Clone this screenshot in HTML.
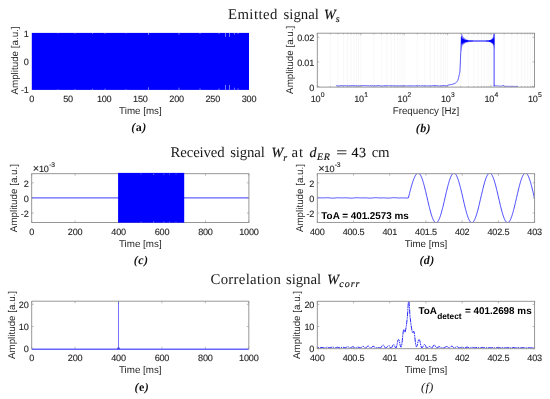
<!DOCTYPE html>
<html><head><meta charset="utf-8"><title>Signals</title>
<style>
html,body{margin:0;padding:0;background:#fff;overflow:hidden}
svg{display:block}
text{text-rendering:geometricPrecision}
.tk{font-family:"Liberation Sans",sans-serif;font-size:9.1px;fill:#262626;stroke:#262626;stroke-width:0.12px;letter-spacing:-0.2px}
.lb{font-family:"Liberation Sans",sans-serif;font-size:9.8px;fill:#262626}
.bd{font-family:"Liberation Sans",sans-serif;font-size:9.9px;font-weight:bold;fill:#000}
.ti{font-family:"Liberation Serif",serif;font-size:14.8px;letter-spacing:0.25px;fill:#1a1a1a}
.mi{font-family:"Liberation Serif",serif;font-style:italic;font-size:14px;fill:#111;stroke:#111;stroke-width:0.15px}
.mr{font-family:"Liberation Serif",serif;font-size:14px;fill:#111;stroke:#111;stroke-width:0.15px}
.cp{font-family:"Liberation Serif",serif;font-style:italic;font-weight:bold;font-size:12px;letter-spacing:0.45px;fill:#111}
.cpl{font-family:"Liberation Serif",serif;font-style:italic;font-size:12px;letter-spacing:0.4px;fill:#111}
</style></head><body>
<svg width="550" height="399" viewBox="0 0 550 399">
<rect width="550" height="399" fill="#ffffff"/>
<rect x="31.8" y="32.9" width="217.2" height="57" fill="#0000ff"/>
<path d="M92.5 32.9v0.96M92.5 89.9v-1.2M148.5 32.9v2.08M148.5 89.9v-2.6M179 32.9v1.76M179 89.9v-2.2M200 32.9v1.2M200 89.9v-1.5M219 32.9v1.2M219 89.9v-1.5M225.5 32.9v4M225.5 89.9v-5M229.5 32.9v4M229.5 89.9v-5M234.4 32.9v1.76M234.4 89.9v-2.2M238 32.9v1.2M238 89.9v-1.5M75 32.9v0.8M75 89.9v-1M105 32.9v1.04M105 89.9v-1.3M58 32.9v0.64M58 89.9v-0.8M126 32.9v0.64M126 89.9v-0.8" stroke="#ffffff" stroke-opacity="0.75" stroke-width="0.6" fill="none"/>
<text x="31.8" y="102" text-anchor="middle" class="tk">0</text>
<text x="68" y="102" text-anchor="middle" class="tk">50</text>
<text x="104.2" y="102" text-anchor="middle" class="tk">100</text>
<text x="140.4" y="102" text-anchor="middle" class="tk">150</text>
<text x="176.6" y="102" text-anchor="middle" class="tk">200</text>
<text x="212.8" y="102" text-anchor="middle" class="tk">250</text>
<text x="249" y="102" text-anchor="middle" class="tk">300</text>
<text x="28.6" y="37" text-anchor="end" class="tk">1</text>
<text x="28.6" y="65" text-anchor="end" class="tk">0</text>
<text x="28.6" y="93" text-anchor="end" class="tk">-1</text>
<text x="140.4" y="114.1" text-anchor="middle" class="lb">Time [ms]</text>
<text transform="translate(17.5 60.5) rotate(-90)" text-anchor="middle" class="lb">Amplitude [a.u.]</text>
<path d="M330.38 33.2V87.1M338.03 33.2V87.1M343.45 33.2V87.1M347.66 33.2V87.1M351.1 33.2V87.1M354.01 33.2V87.1M356.53 33.2V87.1M358.75 33.2V87.1M360.74 33.2V87.1M373.82 33.2V87.1M381.47 33.2V87.1M386.89 33.2V87.1M391.1 33.2V87.1M394.54 33.2V87.1M397.45 33.2V87.1M399.97 33.2V87.1M402.19 33.2V87.1M404.18 33.2V87.1M417.26 33.2V87.1M424.91 33.2V87.1M430.33 33.2V87.1M434.54 33.2V87.1M437.98 33.2V87.1M440.89 33.2V87.1M443.41 33.2V87.1M445.63 33.2V87.1M447.62 33.2V87.1M460.7 33.2V87.1M468.35 33.2V87.1M473.77 33.2V87.1M477.98 33.2V87.1M481.42 33.2V87.1M484.33 33.2V87.1M486.85 33.2V87.1M489.07 33.2V87.1M491.06 33.2V87.1M504.14 33.2V87.1M511.79 33.2V87.1M517.21 33.2V87.1M521.42 33.2V87.1M524.86 33.2V87.1M527.77 33.2V87.1M530.29 33.2V87.1M532.51 33.2V87.1" stroke="#f3f3f3" stroke-width="0.6" fill="none"/>
<clipPath id="cb"><rect x="317.3" y="33.2" width="217.2" height="53.9"/></clipPath>
<g clip-path="url(#cb)"><polyline points="336.04,85.98 336.56,85.78 337.08,85.89 337.6,85.74 338.12,85.73 338.64,86.09 339.17,86.12 339.69,85.59 340.21,85.96 340.73,85.98 341.25,85.49 341.77,85.83 342.29,85.59 342.82,85.83 343.34,85.72 343.86,86.03 344.38,85.72 344.9,85.57 345.42,85.8 345.94,85.66 346.46,85.7 346.99,86.09 347.51,85.64 348.03,85.75 348.55,85.94 349.07,86.11 349.59,85.58 350.11,85.83 350.63,85.67 351.16,85.57 351.68,85.67 352.2,85.54 352.72,85.88 353.24,85.62 353.76,85.85 354.28,85.53 354.8,85.57 355.33,86.07 355.85,86.04 356.37,85.99 356.89,85.51 357.41,85.85 357.93,85.73 358.45,85.94 358.97,85.81 359.5,85.88 360.02,85.91 360.54,85.76 361.06,85.76 361.58,85.55 362.1,85.69 362.62,85.53 363.15,85.58 363.67,85.5 364.19,85.7 364.71,86.03 365.23,85.58 365.75,85.51 366.27,85.55 366.79,85.77 367.32,85.67 367.84,86 368.36,85.6 368.88,85.76 369.4,85.95 369.92,86.09 370.44,85.58 370.96,85.5 371.49,86.07 372.01,85.62 372.53,85.87 373.05,86.03 373.57,85.94 374.09,85.64 374.61,85.57 375.13,86.1 375.66,85.74 376.18,86.1 376.7,85.67 377.22,85.92 377.74,85.57 378.26,85.5 378.78,85.81 379.3,85.49 379.83,85.93 380.35,86.08 380.87,85.75 381.39,86.11 381.91,86 382.43,85.87 382.95,85.74 383.47,86.03 384,86.1 384.52,85.57 385.04,85.93 385.56,85.52 386.08,85.56 386.6,85.89 387.12,85.84 387.65,85.8 388.17,85.72 388.69,85.75 389.21,85.77 389.73,85.73 390.25,85.53 390.77,85.81 391.29,85.85 391.82,85.67 392.34,85.98 392.86,85.94 393.38,85.5 393.9,85.8 394.42,85.78 394.94,86.12 395.46,85.86 395.99,85.76 396.51,86.12 397.03,85.74 397.55,85.73 398.07,86.09 398.59,85.73 399.11,85.83 399.63,85.7 400.16,85.9 400.68,85.68 401.2,85.66 401.72,86.12 402.24,86.09 402.76,85.7 403.28,85.51 403.8,85.97 404.33,85.84 404.85,85.75 405.37,85.93 405.89,85.9 406.41,85.93 406.93,85.89 407.45,85.75 407.98,85.94 408.5,85.89 409.02,85.64 409.54,86.11 410.06,85.77 410.58,85.66 411.1,85.93 411.62,85.99 412.15,85.62 412.67,85.98 413.19,86.01 413.71,85.85 414.23,85.68 414.75,86.07 415.27,85.92 415.79,85.92 416.32,85.6 416.84,85.85 417.36,85.58 417.88,86.02 418.4,85.92 418.92,85.71 419.44,85.56 419.96,85.84 420.49,85.99 421.01,86.05 421.53,85.79 422.05,86.01 422.57,85.61 423.09,85.59 423.61,86.01 424.13,85.95 424.66,85.61 425.18,85.72 425.7,85.61 426.22,85.91 426.74,86.05 427.26,85.94 427.78,85.62 428.31,85.96 428.83,85.91 429.35,85.86 429.87,85.86 430.39,85.87 430.91,85.54 431.43,86.03 431.95,86.13 432.48,85.53 433,85.57 433.52,85.5 434.04,85.85 434.56,85.52 435.08,85.54 435.6,85.99 436.12,85.65 436.65,85.59 437.17,85.71 437.69,85.8 438.21,85.95 438.73,85.91 439.25,85.99 439.77,86.09 440.29,85.75 440.82,85.95 441.34,85.61 441.86,86.1 442.38,85.55 442.9,85.69 443.42,85.54 443.94,85.56 444.46,85.55 444.99,85.76 445.51,86.12 446.03,85.65 446.55,86.02 447.07,85.94" fill="none" stroke="#0000ff" stroke-width="1.1" stroke-opacity="0.5" stroke-linejoin="round"/>
<polyline points="447.07,85.94 448,85.12 448.1,85.1 448.2,85.08 448.3,85.06 448.4,85.05 448.5,85.03 448.6,85.01 448.7,84.99 448.8,84.97 448.9,84.95 449,84.93 449.1,84.92 449.2,84.9 449.3,84.88 449.4,84.86 449.5,84.84 449.6,84.82 449.7,84.8 449.8,84.79 449.9,84.77 450,84.75 450.1,84.73 450.2,84.71 450.3,84.69 450.4,84.67 450.5,84.66 450.6,84.64 450.7,84.62 450.8,84.6 450.9,84.58 451,84.56 451.1,84.55 451.2,84.53 451.3,84.51 451.4,84.49 451.5,84.47 451.6,84.45 451.7,84.43 451.8,84.42 451.9,84.4 452,84.38 452.1,84.35 452.2,84.32 452.3,84.29 452.4,84.26 452.5,84.23 452.6,84.2 452.7,84.17 452.8,84.14 452.9,84.11 453,84.08 453.1,84.05 453.2,84.02 453.3,83.99 453.4,83.96 453.5,83.93 453.6,83.9 453.7,83.87 453.8,83.84 453.9,83.81 454,83.78 454.1,83.75 454.2,83.72 454.3,83.69 454.4,83.66 454.5,83.63 454.6,83.6 454.7,83.57 454.8,83.54 454.9,83.51 455,83.48 455.1,83.45 455.2,83.42 455.3,83.39 455.4,83.27 455.5,83.15 455.6,83.04 455.7,82.92 455.8,82.8 455.9,82.68 456,82.56 456.1,82.44 456.2,82.32 456.3,82.2 456.4,82.08 456.5,81.97 456.6,81.85 456.7,81.73 456.8,81.61 456.9,81.49 457,81.37 457.1,81.25 457.2,81.13 457.3,81.02 457.4,80.9 457.5,80.78 457.6,80.66 457.7,80.54 457.8,80.42 457.9,80.3 458,80.18 458.1,79.74 458.2,79.3 458.3,78.86 458.4,78.42 458.5,77.97 458.6,77.53 458.7,77.09 458.8,76.65 458.9,76.21 459,75.77 459.1,75.33 459.2,74.88 459.3,74.44 459.4,74 459.5,73.56 459.6,73.12 459.7,72.68 459.8,72.23 459.9,71.79 460,69.55 460.1,67.3 460.2,65.06 460.3,62.82 460.4,60.57 460.5,58.33 460.6,56.09 460.7,53.84 460.8,51.6 460.9,49.36 461,47.11 461.1,44.4 461.2,41.68 461.3,38.97 461.4,36.25" fill="none" stroke="#0000ff" stroke-width="0.8" stroke-opacity="0.85" stroke-linejoin="round"/>
<path d="M461 40.94H494.1" stroke="#0000ff" stroke-width="1.1" fill="none"/>
<polygon points="461.2,33.2 461.9,33.2 462.5,35.5 464,37.8 466,39.3 469,40.2 473,40.5 473,41.5 469,41.9 466,42.8 464,44 462.5,45.5 461.8,47.5 461.6,51 461.2,51" fill="#0000ff" fill-opacity="0.5"/>
<polygon points="461.2,37.3 463,38.8 465,39.8 468,40.4 468,41.6 465,42.3 463,43.2 461.2,44.6" fill="#0000ff" fill-opacity="1.0"/>
<polygon points="486,40.5 489,40.2 491,39.5 492.5,38 493.4,35.5 493.7,33.2 494.4,33.2 494.4,50 493.7,46 492.5,44 491,42.6 489,41.9 486,41.5" fill="#0000ff" fill-opacity="0.5"/>
<polygon points="489,40.4 491,39.9 492.5,39 494.2,37.3 494.2,45 492.5,43.2 491,42.2 489,41.6" fill="#0000ff" fill-opacity="1.0"/>
<path d="M494.1 33.2V86.6" stroke="#0000ff" stroke-width="0.9" stroke-opacity="0.85" fill="none"/>
<polyline points="494.1,85.61 494.6,85.61 495.1,85.67 495.6,85.73 496.1,85.78 496.6,85.83 497.1,85.88 497.6,85.92 498.1,85.96 498.6,85.99 499.1,86.03 499.6,86.06 500.1,86.08 500.6,86.11 501.1,86.13 501.6,86.16 502.1,86.17 502.6,85.45 503.1,85.47 503.6,85.48 504.1,86.24 504.6,86.25 505.1,86.26 505.6,86.28 506.1,86.29 506.6,86.3 507.1,86.3 507.6,86.31 508.1,86.32 508.6,86.33 509.1,86.33 509.6,86.34 510.1,86.34 510.6,86.35 511.1,86.35 511.6,86.36 512.1,86.36 512.6,86.36 513.1,86.37 513.6,86.37 514.1,86.37 514.6,86.37 515.1,86.38 515.6,86.38 516.1,86.38 516.6,86.38 517.1,86.38 517.6,86.39 518.1,86.39" fill="none" stroke="#0000ff" stroke-width="0.7" stroke-opacity="0.8"/>
</g>
<rect x="317.3" y="33.2" width="217.2" height="53.9" fill="none" stroke="#8c8c8c" stroke-width="0.9"/>
<path d="M317.3 87.1v-2.0M317.3 33.2v2.0M360.74 87.1v-2.0M360.74 33.2v2.0M404.18 87.1v-2.0M404.18 33.2v2.0M447.62 87.1v-2.0M447.62 33.2v2.0M491.06 87.1v-2.0M491.06 33.2v2.0M534.5 87.1v-2.0M534.5 33.2v2.0" stroke="#8c8c8c" stroke-width="0.6" fill="none"/>
<path d="M317.3 86.6h2.0M534.5 86.6h-2.0M317.3 61.92h2.0M534.5 61.92h-2.0M317.3 37.24h2.0M534.5 37.24h-2.0" stroke="#8c8c8c" stroke-width="0.6" fill="none"/>
<path d="M330.38 87.1v-1.1M330.38 33.2v1.1M338.03 87.1v-1.1M338.03 33.2v1.1M343.45 87.1v-1.1M343.45 33.2v1.1M347.66 87.1v-1.1M347.66 33.2v1.1M351.1 87.1v-1.1M351.1 33.2v1.1M354.01 87.1v-1.1M354.01 33.2v1.1M356.53 87.1v-1.1M356.53 33.2v1.1M358.75 87.1v-1.1M358.75 33.2v1.1M373.82 87.1v-1.1M373.82 33.2v1.1M381.47 87.1v-1.1M381.47 33.2v1.1M386.89 87.1v-1.1M386.89 33.2v1.1M391.1 87.1v-1.1M391.1 33.2v1.1M394.54 87.1v-1.1M394.54 33.2v1.1M397.45 87.1v-1.1M397.45 33.2v1.1M399.97 87.1v-1.1M399.97 33.2v1.1M402.19 87.1v-1.1M402.19 33.2v1.1M417.26 87.1v-1.1M417.26 33.2v1.1M424.91 87.1v-1.1M424.91 33.2v1.1M430.33 87.1v-1.1M430.33 33.2v1.1M434.54 87.1v-1.1M434.54 33.2v1.1M437.98 87.1v-1.1M437.98 33.2v1.1M440.89 87.1v-1.1M440.89 33.2v1.1M443.41 87.1v-1.1M443.41 33.2v1.1M445.63 87.1v-1.1M445.63 33.2v1.1M460.7 87.1v-1.1M460.7 33.2v1.1M468.35 87.1v-1.1M468.35 33.2v1.1M473.77 87.1v-1.1M473.77 33.2v1.1M477.98 87.1v-1.1M477.98 33.2v1.1M481.42 87.1v-1.1M481.42 33.2v1.1M484.33 87.1v-1.1M484.33 33.2v1.1M486.85 87.1v-1.1M486.85 33.2v1.1M489.07 87.1v-1.1M489.07 33.2v1.1M504.14 87.1v-1.1M504.14 33.2v1.1M511.79 87.1v-1.1M511.79 33.2v1.1M517.21 87.1v-1.1M517.21 33.2v1.1M521.42 87.1v-1.1M521.42 33.2v1.1M524.86 87.1v-1.1M524.86 33.2v1.1M527.77 87.1v-1.1M527.77 33.2v1.1M530.29 87.1v-1.1M530.29 33.2v1.1M532.51 87.1v-1.1M532.51 33.2v1.1" stroke="#8c8c8c" stroke-width="0.6" fill="none"/>
<text x="317.5" y="102" text-anchor="middle" class="tk">10<tspan dy="-4.7" dx="0.3" font-size="6.8">0</tspan></text>
<text x="360.94" y="102" text-anchor="middle" class="tk">10<tspan dy="-4.7" dx="0.3" font-size="6.8">1</tspan></text>
<text x="404.38" y="102" text-anchor="middle" class="tk">10<tspan dy="-4.7" dx="0.3" font-size="6.8">2</tspan></text>
<text x="447.82" y="102" text-anchor="middle" class="tk">10<tspan dy="-4.7" dx="0.3" font-size="6.8">3</tspan></text>
<text x="491.26" y="102" text-anchor="middle" class="tk">10<tspan dy="-4.7" dx="0.3" font-size="6.8">4</tspan></text>
<text x="534.7" y="102" text-anchor="middle" class="tk">10<tspan dy="-4.7" dx="0.3" font-size="6.8">5</tspan></text>
<text x="314.1" y="91" text-anchor="end" class="tk">0</text>
<text x="314.1" y="65.52" text-anchor="end" class="tk">0.01</text>
<text x="314.1" y="40.84" text-anchor="end" class="tk">0.02</text>
<text x="425.9" y="114.1" text-anchor="middle" class="lb">Frequency [Hz]</text>
<text transform="translate(293 59.85) rotate(-90)" text-anchor="middle" class="lb">Amplitude [a.u.]</text>
<path d="M31.7 197.9H248.9" stroke="#0000ff" stroke-opacity="0.62" stroke-width="1.3"/>
<rect x="31.7" y="173.7" width="217.2" height="48.8" fill="none" stroke="#8c8c8c" stroke-width="0.9"/>
<path d="M31.7 222.5v-2.0M31.7 173.7v2.0M75.14 222.5v-2.0M75.14 173.7v2.0M118.58 222.5v-2.0M118.58 173.7v2.0M162.02 222.5v-2.0M162.02 173.7v2.0M205.46 222.5v-2.0M205.46 173.7v2.0M248.9 222.5v-2.0M248.9 173.7v2.0" stroke="#8c8c8c" stroke-width="0.6" fill="none"/>
<path d="M31.7 182.8h2.0M248.9 182.8h-2.0M31.7 197.9h2.0M248.9 197.9h-2.0M31.7 213h2.0M248.9 213h-2.0" stroke="#8c8c8c" stroke-width="0.6" fill="none"/>
<rect x="118.1" y="172.9" width="66.1" height="49.8" fill="#0000ff"/>
<path d="M153.6 173.7v1.3M153.6 222.5v-1.3M163.8 173.7v1.1M163.8 222.5v-1.1M169.5 173.7v0.9M169.5 222.5v-0.9M141 173.7v0.8M141 222.5v-0.8M176 173.7v0.8M176 222.5v-0.8" stroke="#ffffff" stroke-opacity="0.7" stroke-width="0.6" fill="none"/>
<text x="31.7" y="235" text-anchor="middle" class="tk">0</text>
<text x="75.14" y="235" text-anchor="middle" class="tk">200</text>
<text x="118.58" y="235" text-anchor="middle" class="tk">400</text>
<text x="162.02" y="235" text-anchor="middle" class="tk">600</text>
<text x="205.46" y="235" text-anchor="middle" class="tk">800</text>
<text x="248.9" y="235" text-anchor="middle" class="tk">1000</text>
<text x="28.5" y="187" text-anchor="end" class="tk">2</text>
<text x="28.5" y="202" text-anchor="end" class="tk">0</text>
<text x="28.5" y="217" text-anchor="end" class="tk">-2</text>
<text x="140.3" y="246.7" text-anchor="middle" class="lb">Time [ms]</text>
<text transform="translate(17.3 198.1) rotate(-90)" text-anchor="middle" class="lb">Amplitude [a.u.]</text>
<text x="32.7" y="171.8" class="tk"><tspan font-size="11">×</tspan>10<tspan dy="-4.6" dx="0.5" font-size="6.8">-3</tspan></text>
<clipPath id="cd"><rect x="317.3" y="173.4" width="217.3" height="49.3"/></clipPath>
<g clip-path="url(#cd)"><polyline points="317.3,197.91 317.59,197.88 317.88,197.86 318.17,197.84 318.46,197.83 318.75,197.82 319.04,197.81 319.33,197.81 319.62,197.81 319.91,197.82 320.2,197.83 320.49,197.84 320.78,197.85 321.07,197.86 321.36,197.87 321.65,197.88 321.94,197.89 322.23,197.9 322.52,197.91 322.8,197.91 323.09,197.91 323.38,197.9 323.67,197.9 323.96,197.88 324.25,197.87 324.54,197.85 324.83,197.84 325.12,197.82 325.41,197.8 325.7,197.78 325.99,197.76 326.28,197.75 326.57,197.74 326.86,197.73 327.15,197.73 327.44,197.73 327.73,197.74 328.02,197.75 328.31,197.77 328.6,197.79 328.89,197.81 329.18,197.84 329.47,197.87 329.76,197.91 330.05,197.94 330.34,197.98 330.63,198.01 330.92,198.04 331.21,198.07 331.5,198.1 331.79,198.12 332.08,198.13 332.37,198.14 332.66,198.15 332.95,198.15 333.24,198.14 333.53,198.13 333.81,198.11 334.1,198.08 334.39,198.06 334.68,198.03 334.97,198 335.26,197.96 335.55,197.93 335.84,197.9 336.13,197.87 336.42,197.84 336.71,197.82 337,197.8 337.29,197.78 337.58,197.77 337.87,197.76 338.16,197.76 338.45,197.76 338.74,197.77 339.03,197.78 339.32,197.79 339.61,197.81 339.9,197.82 340.19,197.84 340.48,197.85 340.77,197.87 341.06,197.88 341.35,197.89 341.64,197.9 341.93,197.9 342.22,197.9 342.51,197.9 342.8,197.89 343.09,197.88 343.38,197.87 343.67,197.86 343.96,197.84 344.25,197.83 344.53,197.82 344.82,197.8 345.11,197.79 345.4,197.78 345.69,197.78 345.98,197.78 346.27,197.78 346.56,197.79 346.85,197.8 347.14,197.82 347.43,197.84 347.72,197.86 348.01,197.89 348.3,197.92 348.59,197.95 348.88,197.98 349.17,198.01 349.46,198.04 349.75,198.07 350.04,198.09 350.33,198.11 350.62,198.13 350.91,198.14 351.2,198.15 351.49,198.15 351.78,198.14 352.07,198.13 352.36,198.11 352.65,198.09 352.94,198.06 353.23,198.03 353.52,197.99 353.81,197.96 354.1,197.92 354.39,197.89 354.68,197.85 354.97,197.82 355.26,197.79 355.54,197.77 355.83,197.75 356.12,197.73 356.41,197.72 356.7,197.72 356.99,197.72 357.28,197.72 357.57,197.73 357.86,197.74 358.15,197.76 358.44,197.78 358.73,197.8 359.02,197.82 359.31,197.84 359.6,197.86 359.89,197.87 360.18,197.89 360.47,197.9 360.76,197.91 361.05,197.92 361.34,197.92 361.63,197.92 361.92,197.91 362.21,197.91 362.5,197.9 362.79,197.89 363.08,197.87 363.37,197.86 363.66,197.85 363.95,197.84 364.24,197.83 364.53,197.83 364.82,197.83 365.11,197.83 365.4,197.84 365.69,197.85 365.98,197.86 366.26,197.88 366.55,197.9 366.84,197.92 367.13,197.95 367.42,197.97 367.71,198 368,198.03 368.29,198.05 368.58,198.08 368.87,198.09 369.16,198.11 369.45,198.12 369.74,198.13 370.03,198.13 370.32,198.12 370.61,198.11 370.9,198.1 371.19,198.07 371.48,198.05 371.77,198.02 372.06,197.98 372.35,197.95 372.64,197.91 372.93,197.88 373.22,197.84 373.51,197.81 373.8,197.77 374.09,197.75 374.38,197.72 374.67,197.7 374.96,197.69 375.25,197.68 375.54,197.68 375.83,197.68 376.12,197.69 376.41,197.71 376.7,197.72 376.99,197.74 377.27,197.77 377.56,197.79 377.85,197.82 378.14,197.84 378.43,197.87 378.72,197.89 379.01,197.91 379.3,197.93 379.59,197.94 379.88,197.95 380.17,197.95 380.46,197.96 380.75,197.96 381.04,197.95 381.33,197.94 381.62,197.93 381.91,197.92 382.2,197.91 382.49,197.9 382.78,197.89 383.07,197.88 383.36,197.88 383.65,197.87 383.94,197.87 384.23,197.87 384.52,197.88 384.81,197.89 385.1,197.9 385.39,197.92 385.68,197.94 385.97,197.96 386.26,197.98 386.55,198 386.84,198.02 387.13,198.04 387.42,198.06 387.71,198.08 387.99,198.09 388.28,198.09 388.57,198.1 388.86,198.09 389.15,198.08 389.44,198.07 389.73,198.05 390.02,198.03 390.31,198 390.6,197.97 390.89,197.94 391.18,197.9 391.47,197.86 391.76,197.83 392.05,197.79 392.34,197.76 392.63,197.73 392.92,197.71 393.21,197.69 393.5,197.67 393.79,197.66 394.08,197.66 394.37,197.66 394.66,197.67 394.95,197.68 395.24,197.7 395.53,197.72 395.82,197.75 396.11,197.77 396.4,197.8 396.69,197.83 396.98,197.86 397.27,197.89 397.56,197.92 397.85,197.94 398.14,197.96 398.43,197.98 398.72,197.99 399,198 399.29,198.01 399.58,198.01 399.87,198 400.16,197.99 400.45,197.98 400.74,197.97 401.03,197.96 401.32,197.95 401.61,197.93 401.9,197.92 402.19,197.91 402.48,197.9 402.77,197.9 403.06,197.9 403.35,197.9 403.64,197.9 403.93,197.91 404.22,197.92 404.51,197.94 404.8,197.95 405.09,197.97 405.38,197.98 405.67,198 405.96,198.02 406.25,198.03 406.54,198.04 406.83,198.05 407.12,198.05 407.41,198.05 407.7,198.05 407.99,198.04 408.28,198.02 408.57,197.13 408.86,195.98 409.15,194.84 409.44,193.71 409.72,192.58 410.01,191.47 410.3,190.37 410.59,189.28 410.88,188.22 411.17,187.17 411.46,186.15 411.75,185.16 412.04,184.19 412.33,183.25 412.62,182.34 412.91,181.46 413.2,180.62 413.49,179.82 413.78,179.06 414.07,178.33 414.36,177.65 414.65,177.01 414.94,176.42 415.23,175.87 415.52,175.37 415.81,174.92 416.1,174.52 416.39,174.17 416.68,173.86 416.97,173.61 417.26,173.42 417.55,173.27 417.84,173.18 418.13,173.14 418.42,173.15 418.71,173.23 419,173.38 419.29,173.59 419.58,173.86 419.87,174.19 420.16,174.58 420.45,175.04 420.73,175.55 421.02,176.13 421.31,176.75 421.6,177.44 421.89,178.17 422.18,178.96 422.47,179.8 422.76,180.68 423.05,181.61 423.34,182.58 423.63,183.59 423.92,184.64 424.21,185.72 424.5,186.83 424.79,187.97 425.08,189.14 425.37,190.33 425.66,191.54 425.95,192.77 426.24,194.01 426.53,195.26 426.82,196.52 427.11,197.78 427.4,199.04 427.69,200.29 427.98,201.55 428.27,202.79 428.56,204.02 428.85,205.23 429.14,206.42 429.43,207.6 429.72,208.74 430.01,209.86 430.3,210.95 430.59,212.01 430.88,213.02 431.17,214 431.45,214.94 431.74,215.83 432.03,216.68 432.32,217.48 432.61,218.22 432.9,218.92 433.19,219.56 433.48,220.14 433.77,220.66 434.06,221.13 434.35,221.54 434.64,221.88 434.93,222.17 435.22,222.39 435.51,222.54 435.8,222.64 436.09,222.66 436.38,222.63 436.67,222.53 436.96,222.37 437.25,222.14 437.54,221.85 437.83,221.5 438.12,221.08 438.41,220.61 438.7,220.08 438.99,219.49 439.28,218.84 439.57,218.14 439.86,217.39 440.15,216.59 440.44,215.74 440.73,214.84 441.02,213.9 441.31,212.92 441.6,211.89 441.89,210.84 442.18,209.74 442.46,208.62 442.75,207.47 443.04,206.3 443.33,205.1 443.62,203.88 443.91,202.65 444.2,201.41 444.49,200.16 444.78,198.9 445.07,197.64 445.36,196.38 445.65,195.12 445.94,193.87 446.23,192.64 446.52,191.41 446.81,190.2 447.1,189.01 447.39,187.85 447.68,186.71 447.97,185.6 448.26,184.52 448.55,183.48 448.84,182.47 449.13,181.51 449.42,180.58 449.71,179.71 450,178.87 450.29,178.09 450.58,177.36 450.87,176.68 451.16,176.06 451.45,175.49 451.74,174.99 452.03,174.54 452.32,174.15 452.61,173.82 452.9,173.56 453.18,173.36 453.47,173.22 453.76,173.15 454.05,173.14 454.34,173.2 454.63,173.31 454.92,173.5 455.21,173.74 455.5,174.05 455.79,174.42 456.08,174.85 456.37,175.35 456.66,175.9 456.95,176.5 457.24,177.16 457.53,177.88 457.82,178.65 458.11,179.47 458.4,180.33 458.69,181.24 458.98,182.2 459.27,183.19 459.56,184.23 459.85,185.29 460.14,186.4 460.43,187.53 460.72,188.68 461.01,189.87 461.3,191.07 461.59,192.29 461.88,193.52 462.17,194.77 462.46,196.03 462.75,197.28 463.04,198.55 463.33,199.8 463.62,201.06 463.91,202.31 464.19,203.54 464.48,204.76 464.77,205.96 465.06,207.14 465.35,208.3 465.64,209.43 465.93,210.53 466.22,211.6 466.51,212.63 466.8,213.63 467.09,214.58 467.38,215.49 467.67,216.35 467.96,217.17 468.25,217.94 468.54,218.65 468.83,219.31 469.12,219.92 469.41,220.47 469.7,220.96 469.99,221.39 470.28,221.76 470.57,222.06 470.86,222.31 471.15,222.49 471.44,222.61 471.73,222.66 472.02,222.65 472.31,222.58 472.6,222.44 472.89,222.23 473.18,221.97 473.47,221.64 473.76,221.25 474.05,220.8 474.34,220.29 474.63,219.73 474.91,219.1 475.2,218.42 475.49,217.69 475.78,216.91 476.07,216.07 476.36,215.19 476.65,214.27 476.94,213.3 477.23,212.3 477.52,211.25 477.81,210.17 478.1,209.06 478.39,207.92 478.68,206.76 478.97,205.57 479.26,204.36 479.55,203.13 479.84,201.9 480.13,200.65 480.42,199.39 480.71,198.13 481,196.87 481.29,195.61 481.58,194.36 481.87,193.12 482.16,191.89 482.45,190.67 482.74,189.47 483.03,188.3 483.32,187.15 483.61,186.03 483.9,184.94 484.19,183.88 484.48,182.86 484.77,181.88 485.06,180.94 485.35,180.04 485.64,179.19 485.92,178.39 486.21,177.64 486.5,176.94 486.79,176.3 487.08,175.71 487.37,175.18 487.66,174.71 487.95,174.29 488.24,173.94 488.53,173.66 488.82,173.43 489.11,173.27 489.4,173.17 489.69,173.14 489.98,173.17 490.27,173.26 490.56,173.42 490.85,173.64 491.14,173.92 491.43,174.27 491.72,174.68 492.01,175.15 492.3,175.67 492.59,176.26 492.88,176.9 493.17,177.6 493.46,178.34 493.75,179.14 494.04,179.99 494.33,180.88 494.62,181.82 494.91,182.8 495.2,183.82 495.49,184.87 495.78,185.96 496.07,187.08 496.36,188.23 496.64,189.4 496.93,190.6 497.22,191.81 497.51,193.04 497.8,194.28 498.09,195.54 498.38,196.79 498.67,198.05 498.96,199.32 499.25,200.57 499.54,201.82 499.83,203.06 500.12,204.29 500.41,205.5 500.7,206.69 500.99,207.85 501.28,208.99 501.57,210.11 501.86,211.19 502.15,212.23 502.44,213.24 502.73,214.21 503.02,215.14 503.31,216.02 503.6,216.86 503.89,217.64 504.18,218.38 504.47,219.06 504.76,219.69 505.05,220.26 505.34,220.77 505.63,221.23 505.92,221.62 506.21,221.95 506.5,222.22 506.79,222.43 507.08,222.57 507.37,222.65 507.65,222.66 507.94,222.61 508.23,222.5 508.52,222.32 508.81,222.08 509.1,221.78 509.39,221.41 509.68,220.98 509.97,220.5 510.26,219.95 510.55,219.35 510.84,218.69 511.13,217.98 511.42,217.22 511.71,216.4 512,215.54 512.29,214.64 512.58,213.68 512.87,212.69 513.16,211.66 513.45,210.6 513.74,209.5 514.03,208.37 514.32,207.21 514.61,206.03 514.9,204.83 515.19,203.61 515.48,202.38 515.77,201.13 516.06,199.88 516.35,198.62 516.64,197.36 516.93,196.1 517.22,194.85 517.51,193.6 517.8,192.36 518.09,191.14 518.37,189.94 518.66,188.75 518.95,187.6 519.24,186.46 519.53,185.36 519.82,184.29 520.11,183.25 520.4,182.26 520.69,181.3 520.98,180.39 521.27,179.52 521.56,178.7 521.85,177.93 522.14,177.21 522.43,176.54 522.72,175.93 523.01,175.38 523.3,174.88 523.59,174.45 523.88,174.07 524.17,173.76 524.46,173.51 524.75,173.32 525.04,173.2 525.33,173.14 525.62,173.15 525.91,173.22 526.2,173.35 526.49,173.55 526.78,173.81 527.07,174.13 527.36,174.51 527.65,174.96 527.94,175.46 528.23,176.03 528.52,176.64 528.81,177.32 529.1,178.05 529.38,178.83 529.67,179.65 529.96,180.53 530.25,181.45 530.54,182.41 530.83,183.42 531.12,184.46 531.41,185.54 531.7,186.64 531.99,187.78 532.28,188.94 532.57,190.13 532.86,191.34 533.15,192.56 533.44,193.8 533.73,195.05 534.02,196.3 534.31,197.56 534.6,198.82" fill="none" stroke="#0000ff" stroke-width="0.8" stroke-opacity="0.9" stroke-linejoin="round"/></g>
<rect x="317.3" y="173.7" width="217.3" height="48.7" fill="none" stroke="#8c8c8c" stroke-width="0.9"/>
<path d="M317.3 222.4v-2.0M317.3 173.7v2.0M353.52 222.4v-2.0M353.52 173.7v2.0M389.73 222.4v-2.0M389.73 173.7v2.0M425.95 222.4v-2.0M425.95 173.7v2.0M462.17 222.4v-2.0M462.17 173.7v2.0M498.38 222.4v-2.0M498.38 173.7v2.0M534.6 222.4v-2.0M534.6 173.7v2.0" stroke="#8c8c8c" stroke-width="0.6" fill="none"/>
<path d="M317.3 182.8h2.0M534.6 182.8h-2.0M317.3 197.9h2.0M534.6 197.9h-2.0M317.3 213h2.0M534.6 213h-2.0" stroke="#8c8c8c" stroke-width="0.6" fill="none"/>
<text x="317.3" y="235" text-anchor="middle" class="tk">400</text>
<text x="353.52" y="235" text-anchor="middle" class="tk">400.5</text>
<text x="389.73" y="235" text-anchor="middle" class="tk">401</text>
<text x="425.95" y="235" text-anchor="middle" class="tk">401.5</text>
<text x="462.17" y="235" text-anchor="middle" class="tk">402</text>
<text x="498.38" y="235" text-anchor="middle" class="tk">402.5</text>
<text x="534.6" y="235" text-anchor="middle" class="tk">403</text>
<text x="314.1" y="187" text-anchor="end" class="tk">2</text>
<text x="314.1" y="202" text-anchor="end" class="tk">0</text>
<text x="314.1" y="217" text-anchor="end" class="tk">-2</text>
<text x="425.95" y="246.6" text-anchor="middle" class="lb">Time [ms]</text>
<text transform="translate(302.5 198.05) rotate(-90)" text-anchor="middle" class="lb">Amplitude [a.u.]</text>
<text x="318.3" y="171.8" class="tk"><tspan font-size="11">×</tspan>10<tspan dy="-4.6" dx="0.5" font-size="6.8">-3</tspan></text>
<text x="321.3" y="218.6" class="bd">ToA = 401.2573 ms</text>
<path d="M31.7 349.2H248.8" stroke="#0000ff" stroke-opacity="0.6" stroke-width="1.5"/>
<path d="M118.5 301.5V348.8" stroke="#0000ff" stroke-opacity="0.6" stroke-width="0.9"/>
<path d="M118.5 301.5v2" stroke="#0000ff" stroke-opacity="0.5" stroke-width="0.9"/>
<path d="M117.5 348.3h2" stroke="#0000ff" stroke-width="1.6"/>
<path d="M31.7 301.2H248.8V348.8M31.7 301.2V348.8" fill="none" stroke="#8c8c8c" stroke-width="0.9"/>
<path d="M31.7 348.8v-2.0M31.7 301.2v2.0M75.12 348.8v-2.0M75.12 301.2v2.0M118.54 348.8v-2.0M118.54 301.2v2.0M161.96 348.8v-2.0M161.96 301.2v2.0M205.38 348.8v-2.0M205.38 301.2v2.0M248.8 348.8v-2.0M248.8 301.2v2.0" stroke="#8c8c8c" stroke-width="0.6" fill="none"/>
<path d="M31.7 348.8h2.0M248.8 348.8h-2.0M31.7 326.55h2.0M248.8 326.55h-2.0M31.7 304.3h2.0M248.8 304.3h-2.0" stroke="#8c8c8c" stroke-width="0.6" fill="none"/>
<text x="31.7" y="361" text-anchor="middle" class="tk">0</text>
<text x="75.12" y="361" text-anchor="middle" class="tk">200</text>
<text x="118.54" y="361" text-anchor="middle" class="tk">400</text>
<text x="161.96" y="361" text-anchor="middle" class="tk">600</text>
<text x="205.38" y="361" text-anchor="middle" class="tk">800</text>
<text x="248.8" y="361" text-anchor="middle" class="tk">1000</text>
<text x="28.5" y="352.4" text-anchor="end" class="tk">0</text>
<text x="28.5" y="330.15" text-anchor="end" class="tk">10</text>
<text x="28.5" y="307.9" text-anchor="end" class="tk">20</text>
<text x="140.25" y="373" text-anchor="middle" class="lb">Time [ms]</text>
<text transform="translate(15.4 325) rotate(-90)" text-anchor="middle" class="lb">Amplitude [a.u.]</text>
<clipPath id="cf"><rect x="317.3" y="301.3" width="217.3" height="47.4"/></clipPath>
<g clip-path="url(#cf)"><path d="M312.03 347.23C312.62 347.38 313.41 347.89 314.58 347.9C315.75 347.9 315.96 347.25 317.13 347.25C318.3 347.25 318.51 347.85 319.68 347.9C320.85 347.9 321.06 347.47 322.23 347.47C323.4 347.47 323.61 347.9 324.78 347.9C325.95 347.83 326.16 347.15 327.33 347.15C328.5 347.15 328.71 347.9 329.88 347.9C331.05 347.87 331.26 347.01 332.43 347.01C333.6 347.01 333.81 347.86 334.98 347.9C336.15 347.9 336.36 347.18 337.53 347.18C338.7 347.18 338.91 347.9 340.08 347.9C341.25 347.88 341.46 347.08 342.63 347.08C343.8 347.08 344.01 347.9 345.18 347.9C346.35 347.82 346.56 346.71 347.73 346.71C348.9 346.71 349.11 347.9 350.28 347.9C351.45 347.9 351.66 346.71 352.83 346.71C354 346.71 354.21 347.82 355.38 347.9C356.55 347.9 356.76 347.05 357.93 347.05C359.1 347.05 359.31 347.9 360.48 347.9C361.65 347.74 361.86 346.35 363.03 346.35C364.2 346.35 364.41 347.9 365.58 347.9C366.75 347.82 366.96 346 368.13 346C369.3 346 369.51 347.83 370.68 347.9C371.85 347.9 372.06 346.3 373.23 346.3C374.4 346.3 374.64 347.66 375.78 347.9C376.92 347.9 377.09 347.36 378.18 347.36C379.28 347.37 379.42 347.91 380.55 347.91C381.67 347.37 381.96 345 383.09 345C384.22 345 384.49 347.49 385.45 347.91C386.42 347.91 386.44 347.36 387.27 346.82C388.11 346.27 388.17 345.55 389.09 345.55C390.01 345.82 390.23 348 391.27 348C392.32 347.75 392.55 344.45 393.64 344.45C394.72 344.45 394.87 348 396 348C397.13 346.87 397.37 339.73 398.55 339.55C399.72 339.55 399.92 347.18 401.09 347.18C402.26 344.88 402.72 333.02 403.64 329.55C404.56 329.55 404.28 332.09 405.09 332.09C405.91 329.58 406.35 325.79 407.18 318.64C408.02 311.49 408.02 301 408.73 301C409.44 301 409.39 311.28 410.27 318.64C411.15 326 411.69 330.07 412.55 333C413.4 333 413.12 331.36 414 331.36C414.88 334.54 415.19 344.94 416.36 346.82C417.53 346.82 417.84 339.55 419.09 339.55C420.35 339.8 420.56 346.78 421.82 347.91C423.07 347.91 423.37 344.45 424.55 344.45C425.72 344.48 425.74 347.54 426.91 348C428.08 348 428.51 346.45 429.64 346.45C430.77 346.45 430.77 348 431.82 348C432.86 347.67 433.09 345.02 434.18 345C435.27 345 435.42 347.53 436.55 347.91C437.67 347.91 437.92 346.64 439.09 346.64C440.26 346.66 440.48 347.71 441.64 348C442.8 348 442.97 348 444.14 347.9C445.3 347.55 445.51 346.48 446.69 346.48C447.86 346.48 448.06 347.9 449.24 347.9C450.41 347.84 450.61 346.2 451.79 346.2C452.96 346.2 453.16 347.8 454.34 347.9C455.51 347.9 455.71 346.64 456.89 346.64C458.06 346.64 458.26 347.77 459.44 347.9C460.61 347.9 460.81 347.19 461.99 347.19C463.16 347.19 463.36 347.9 464.54 347.9C465.71 347.87 465.91 347.06 467.09 347.06C468.26 347.06 468.46 347.85 469.64 347.9C470.81 347.9 471.01 347.28 472.19 347.28C473.36 347.28 473.56 347.86 474.74 347.9C475.91 347.9 476.11 347.47 477.29 347.47C478.46 347.47 478.66 347.9 479.84 347.9C481.01 347.88 481.21 347.4 482.39 347.4C483.56 347.4 483.76 347.87 484.94 347.9C486.11 347.9 486.31 347.53 487.49 347.53C488.66 347.53 488.86 347.89 490.04 347.9C491.21 347.9 491.41 347.59 492.59 347.59C493.76 347.59 493.96 347.9 495.14 347.9C496.31 347.89 496.51 347.54 497.69 347.54C498.86 347.54 499.06 347.88 500.24 347.9C501.41 347.9 501.61 347.64 502.79 347.64C503.96 347.64 504.16 347.9 505.34 347.9C506.51 347.9 506.71 347.64 507.89 347.64C509.06 347.64 509.26 347.9 510.44 347.9C511.61 347.89 511.81 347.61 512.99 347.61C514.16 347.61 514.36 347.88 515.54 347.9C516.71 347.9 516.91 347.7 518.09 347.7C519.26 347.7 519.46 347.9 520.64 347.9C521.81 347.89 522.01 347.67 523.19 347.67C524.36 347.67 524.56 347.9 525.74 347.9C526.91 347.9 527.11 347.65 528.29 347.65C529.46 347.65 529.66 347.88 530.84 347.9C532.01 347.9 532.21 347.74 533.39 347.74C534.56 347.74 534.76 347.9 535.94 347.9C537.11 347.89 537.9 347.73 538.49 347.68" fill="none" stroke="#0000ff" stroke-width="0.95" stroke-opacity="0.9" stroke-dasharray="5 0.8 1.4 0.8" stroke-linejoin="round"/></g>
<rect x="317.3" y="301.3" width="217.3" height="47.4" fill="none" stroke="#8c8c8c" stroke-width="0.9"/>
<path d="M317.3 348.7v-2.0M317.3 301.3v2.0M353.52 348.7v-2.0M353.52 301.3v2.0M389.73 348.7v-2.0M389.73 301.3v2.0M425.95 348.7v-2.0M425.95 301.3v2.0M462.17 348.7v-2.0M462.17 301.3v2.0M498.38 348.7v-2.0M498.38 301.3v2.0M534.6 348.7v-2.0M534.6 301.3v2.0" stroke="#8c8c8c" stroke-width="0.6" fill="none"/>
<path d="M317.3 348.7h2.0M534.6 348.7h-2.0M317.3 326.55h2.0M534.6 326.55h-2.0M317.3 304.4h2.0M534.6 304.4h-2.0" stroke="#8c8c8c" stroke-width="0.6" fill="none"/>
<text x="317.3" y="361" text-anchor="middle" class="tk">400</text>
<text x="353.52" y="361" text-anchor="middle" class="tk">400.5</text>
<text x="389.73" y="361" text-anchor="middle" class="tk">401</text>
<text x="425.95" y="361" text-anchor="middle" class="tk">401.5</text>
<text x="462.17" y="361" text-anchor="middle" class="tk">402</text>
<text x="498.38" y="361" text-anchor="middle" class="tk">402.5</text>
<text x="534.6" y="361" text-anchor="middle" class="tk">403</text>
<text x="314.1" y="352.3" text-anchor="end" class="tk">0</text>
<text x="314.1" y="330.15" text-anchor="end" class="tk">10</text>
<text x="314.1" y="308" text-anchor="end" class="tk">20</text>
<text x="425.95" y="372.9" text-anchor="middle" class="lb">Time [ms]</text>
<text transform="translate(300.4 325) rotate(-90)" text-anchor="middle" class="lb">Amplitude [a.u.]</text>
<text x="418.4" y="313.6" class="bd">ToA<tspan dy="5" dx="0.3" font-size="8.3">detect</tspan><tspan dy="-5" dx="3.3">= 401.2698 ms</tspan></text>
<text x="228" y="19.1" class="ti" textLength="49.6">Emitted</text>
<text x="283.6" y="19.1" class="ti" textLength="35.6">signal</text>
<text x="324.0" y="19.2" class="mi">W<tspan dy="2.4" dx="0.2" font-size="10">s</tspan></text>
<text x="170.6" y="157" class="ti" textLength="54.2">Received</text>
<text x="230.2" y="157" class="ti" textLength="34.9">signal</text>
<text x="271.4" y="156.7" class="mi">W<tspan dy="4.0" dx="0.2" font-size="10">r</tspan></text>
<text x="291.6" y="157" class="ti" textLength="11.8">at</text>
<text x="309.4" y="156.7" class="mi">d<tspan dy="3.6" dx="0.6" font-size="10" letter-spacing="0.7">ER</tspan></text>
<text transform="translate(336.2 156.9) scale(1.38 1)" class="mr">=</text>
<text x="351.4" y="156.8" class="mr" letter-spacing="0.5">43</text>
<text x="371.8" y="157" class="ti" textLength="18">cm</text>
<text x="210.5" y="284" class="ti" textLength="70.6">Correlation</text>
<text x="286" y="284" class="ti" textLength="35.3">signal</text>
<text x="327.2" y="284.1" class="mi">W<tspan dy="2.9" dx="0.4" font-size="10" letter-spacing="1.0">corr</tspan></text>
<text x="138.9" y="131.3" text-anchor="middle" class="cp">(<tspan font-style="normal">a</tspan>)</text>
<text x="423.4" y="132.3" text-anchor="middle" class="cp">(b)</text>
<text x="141.1" y="264.4" text-anchor="middle" class="cp">(c)</text>
<text x="427.1" y="264.4" text-anchor="middle" class="cp">(d)</text>
<text x="141.8" y="390.6" text-anchor="middle" class="cp">(<tspan font-style="normal">e</tspan>)</text>
<text x="427.3" y="390.6" text-anchor="middle" class="cpl">(f)</text>
</svg>
</body></html>
